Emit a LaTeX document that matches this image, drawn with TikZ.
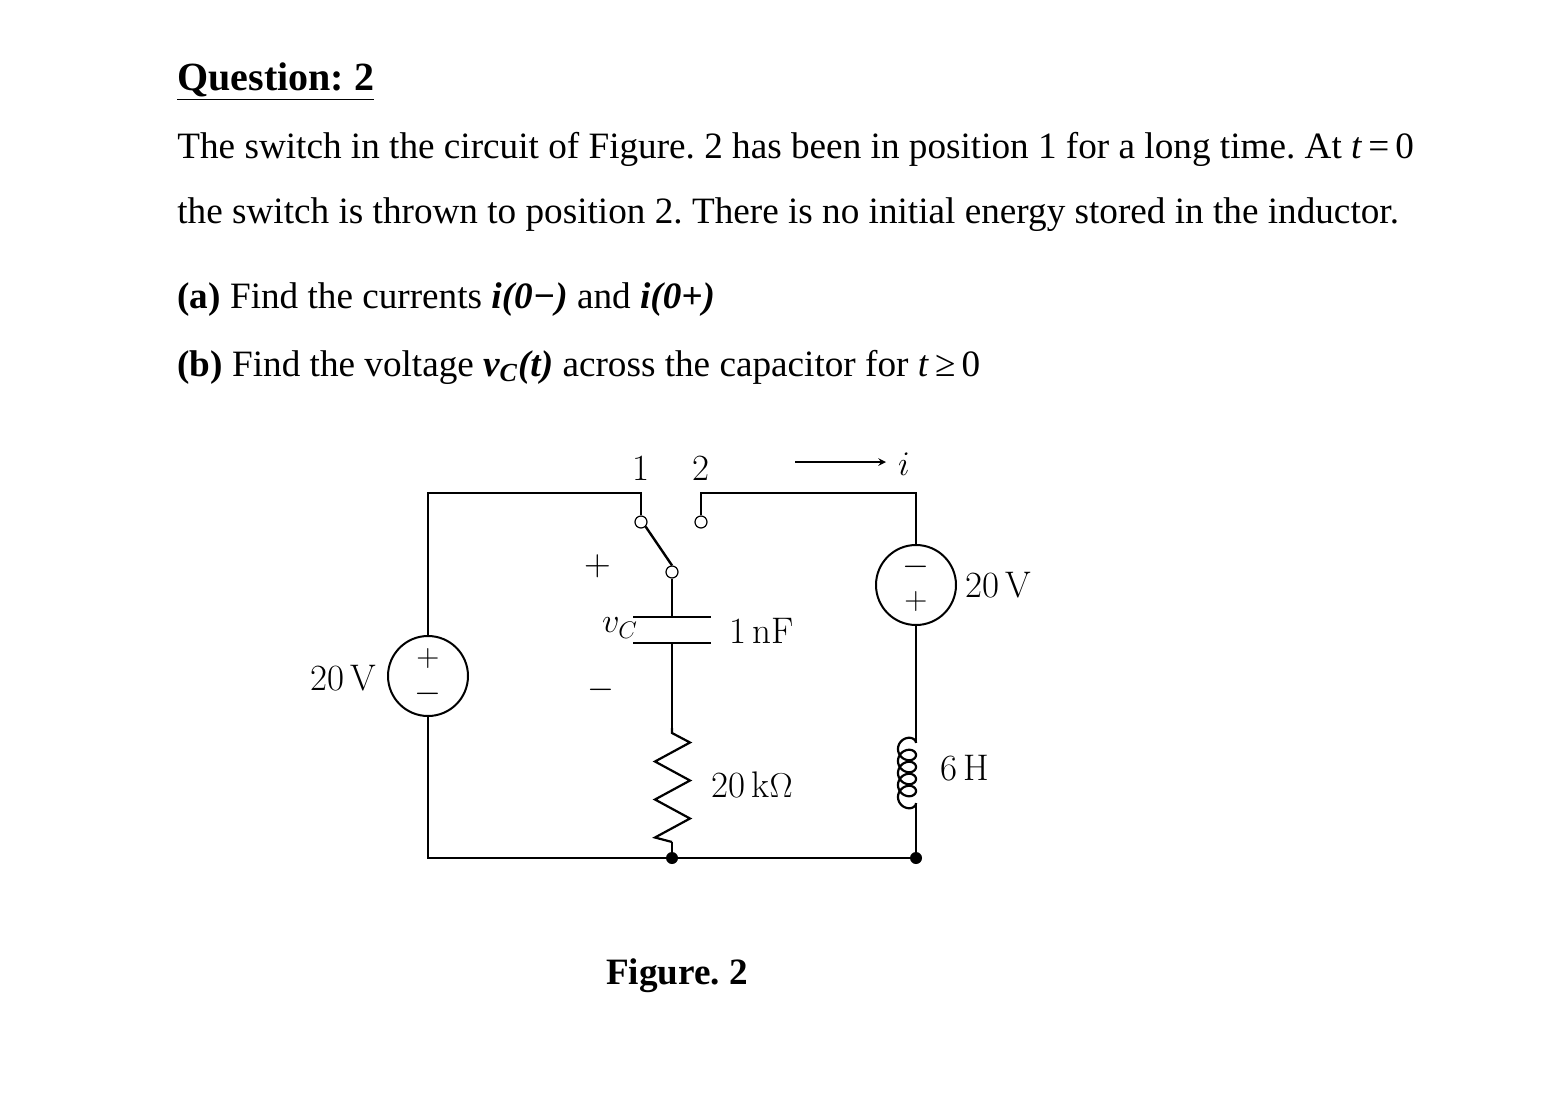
\documentclass[tikz,border=0pt]{standalone}
\usepackage{fontspec}
\setmainfont{Liberation Serif}
\newfontfamily\lmfont{Latin Modern Roman}
\begin{document}
\frenchspacing
\begin{tikzpicture}[x=0.5pt,y=-0.5pt,
  wire/.style={line width=0.7pt},
  term/.style={circle,draw,fill=white,inner sep=0pt,minimum size=6pt,line width=0.6pt},
  dot/.style={circle,fill,inner sep=0pt,minimum size=6pt},
  txt/.style={anchor=base west,inner sep=0pt,font=\fontsize{18.6}{22}\selectfont},
  lab/.style={font=\lmfont\fontsize{18.5}{20}\selectfont},
  sgn/.style={font=\lmfont\fontsize{16}{16}\selectfont,inner sep=0pt}]
\useasboundingbox (0,0) rectangle (1548,1098);
% text
\node[txt,font=\bfseries\fontsize{20}{22}\selectfont] (title) at (177,90) {\underline{Question: 2}};
\node[txt] (l1) at (177,158) {The switch in the circuit of Figure. 2 has been in position 1 for a long time. At \textit{t}\,=\,0};
\node[txt] (l2) at (177,223) {the switch is thrown to position 2. There is no initial energy stored in the inductor.};
\node[txt] (l3) at (177,308) {\textbf{(a)} Find the currents \textbf{\textit{i(0−)}} and \textbf{\textit{i(0+)}}};
\node[txt] (l4) at (177,376) {\textbf{(b)} Find the voltage \textbf{\textit{v\textsubscript{C}(t)}} across the capacitor for \textit{t}\,≥\,0};
\node[anchor=base,font=\bfseries\fontsize{18.6}{20}\selectfont] (fig) at (677,984) {Figure. 2};
% coordinates
\coordinate (tl) at (428,493);
\coordinate (bl) at (428,858);
\coordinate (s1top) at (641,493);
\coordinate (s2top) at (701,493);
\coordinate (tr) at (916,493);
\coordinate (c1) at (672,617);
\coordinate (c2) at (672,643);
\coordinate (rt) at (672,728);
\coordinate (rb) at (672,842);
\coordinate (lt) at (916,743);
\coordinate (lb) at (916,803);
\node[circle,draw,line width=1pt,minimum size=40pt,inner sep=0pt] (V1) at (428,676) {};
\node[circle,draw,line width=1pt,minimum size=40pt,inner sep=0pt] (V2) at (916,585) {};
\node[term] (T1) at (641,522) {};
\node[term] (T2) at (701,522) {};
\node[term] (P) at (672,572) {};
\node[dot] (D1) at (672,858) {};
\node[dot] (D2) at (916,858) {};
% wires
\draw[wire] (V1.north) -- (tl) -- (s1top) -- (T1.north);
\draw[wire] (T2.north) -- (s2top) -- (tr) -- (V2.north);
\draw[wire] (V1.south) -- (bl) -- (D1) -- (D2);
\draw[line width=1.2pt] (T1.south east) -- (P.north);
\draw[wire] (P.south) -- (c1);
\draw[line width=1.2pt] (633,617) -- (711,617) (633,643) -- (711,643);
\draw[wire] (c2) -- (rt);
\draw[line width=1.1pt] (rt) -- (672,733) -- (690,742.5) -- (655,761.5) -- (690,780.5) -- (655,799.5) -- (690,818.5) -- (655,837.5) -- (672,842) -- (rb);
\draw[wire] (rb) -- (D1);
\draw[wire] (V2.south) -- (lt);
\draw[line width=1.1pt] plot[domain=0:1800,samples=240,smooth,variable=\t] ({907+9*cos(\t)},{743+\t/30-8*sin(\t)});
\draw[wire] (lb) -- (D2);
% source signs
\node[sgn] at (428,659) {+};
\node[sgn] at (428,694) {$-$};
\node[sgn] at (916,567) {$-$};
\node[sgn] at (916,602) {+};
% labels
\node[lab] (n1) at (641,468) {1};
\node[lab] (n2) at (701,468) {2};
\coordinate (a1) at (795,462);
\coordinate (a2) at (886,462);
\draw[wire,-stealth] (a1) -- (a2);
\node[lab] (il) at (904,464) {$i$};
\node[lab] at (998,585) {20\,V};
\node[lab] at (343,678) {20\,V};
\node[lab] at (762,631) {1\,nF};
\node[lab] at (620,628) {$v_C$};
\node[lab] at (598,566) {+};
\node[lab] at (601,690) {$-$};
\node[lab] at (752,785) {20\,k$\Omega$};
\node[lab] at (965,768) {6\,H};
\end{tikzpicture}
\end{document}
